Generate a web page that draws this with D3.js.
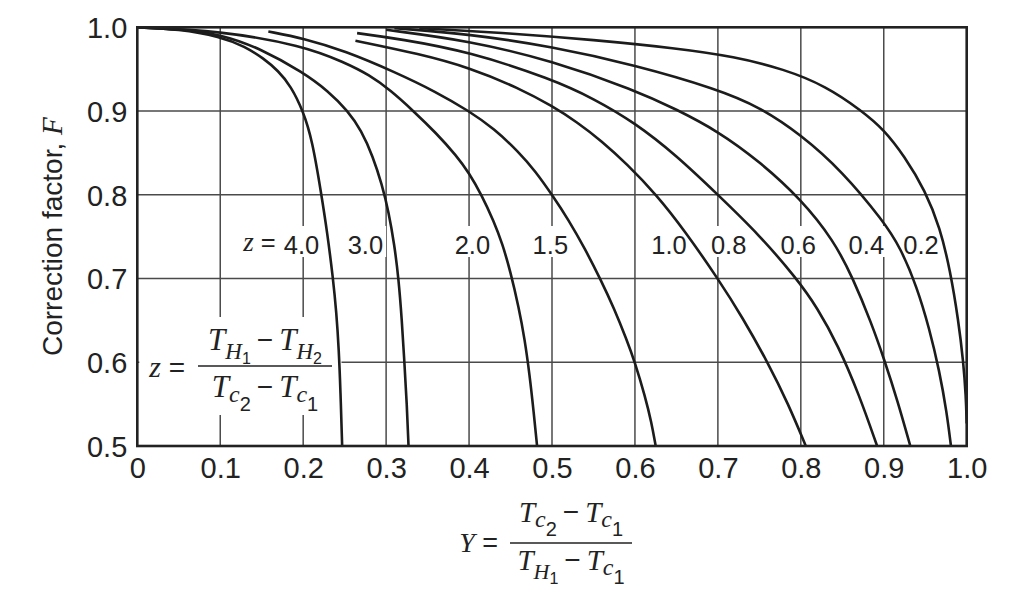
<!DOCTYPE html>
<html><head><meta charset="utf-8">
<script src="https://cdn.jsdelivr.net/npm/d3@7"></script>
<style>
html,body{margin:0;padding:0;background:#fff;}
svg{display:block;}
</style></head>
<body>
<svg id="chart" width="1024" height="601"></svg>
<script>
// ---------- data ----------
const zLabels = ["4.0","3.0","2.0","1.5","1.0","0.8","0.6","0.4","0.2"];
const labelPosY = [0.198,0.275,0.404,0.498,0.641,0.713,0.797,0.879,0.945];
const labelPosF = 0.740;

const curveZ40 = [[0,1],[0.05,0.998],[0.1,0.989],[0.13,0.977],[0.152,0.963],[0.17,0.948],[0.185,0.93],[0.2,0.9],[0.211,0.865],[0.222,0.8],[0.229,0.755],[0.236,0.7],[0.24,0.66],[0.243,0.615],[0.245,0.565],[0.247,0.5]];
const curveZ30 = [[0,1],[0.05,0.998],[0.1,0.992],[0.15,0.974],[0.2,0.946],[0.23,0.924],[0.254,0.9],[0.27,0.877],[0.284,0.846],[0.295,0.812],[0.303,0.78],[0.31,0.74],[0.315,0.7],[0.319,0.65],[0.322,0.6],[0.325,0.55],[0.327,0.5]];
const curveZ20 = [[0,1],[0.1,0.996],[0.2,0.978],[0.25,0.958],[0.28,0.943],[0.305,0.925],[0.333,0.9],[0.36,0.874],[0.385,0.8465],[0.4,0.826],[0.415,0.8],[0.43,0.768],[0.44,0.742],[0.45,0.708],[0.46,0.665],[0.467,0.628],[0.473,0.585],[0.478,0.54],[0.482,0.5]];
const curveZ15 = [[0.158,0.995],[0.2,0.987],[0.25,0.972],[0.312,0.946],[0.36,0.923],[0.4,0.9],[0.43,0.879],[0.46,0.851],[0.48,0.828],[0.5,0.8],[0.52,0.77],[0.54,0.735],[0.558,0.7],[0.575,0.664],[0.59,0.627],[0.6,0.6],[0.612,0.56],[0.62,0.528],[0.625,0.5]];
const curveZ10 = [[0.263,0.984],[0.341,0.968],[0.4,0.952],[0.461,0.927],[0.5,0.906],[0.53,0.887],[0.56,0.864],[0.59,0.837],[0.626,0.8],[0.66,0.757],[0.7,0.7],[0.73,0.653],[0.76,0.6],[0.785,0.55],[0.806,0.5]];
const curveZ08 = [[0.265,0.993],[0.317,0.986],[0.4,0.971],[0.5,0.938],[0.55,0.915],[0.6,0.886],[0.65,0.847],[0.7,0.8],[0.75,0.752],[0.795,0.7],[0.82,0.665],[0.845,0.62],[0.87,0.562],[0.892,0.5]];
const curveZ06 = [[0.30,0.997],[0.4,0.984],[0.5,0.96],[0.6,0.925],[0.65,0.902],[0.7,0.876],[0.75,0.84],[0.8,0.795],[0.84,0.745],[0.863,0.7],[0.885,0.647],[0.9,0.605],[0.917,0.553],[0.932,0.5]];
const curveZ04 = [[0.31,0.999],[0.4,0.992],[0.5,0.977],[0.6,0.955],[0.7,0.926],[0.75,0.905],[0.8,0.872],[0.85,0.828],[0.9,0.768],[0.92,0.737],[0.94,0.69],[0.955,0.64],[0.967,0.59],[0.976,0.54],[0.981,0.5]];
const curveZ02 = [[0.34,0.999],[0.45,0.993],[0.55,0.985],[0.65,0.975],[0.72,0.965],[0.78,0.95],[0.83,0.93],[0.874,0.9],[0.9,0.878],[0.925,0.846],[0.95,0.805],[0.968,0.76],[0.98,0.71],[0.99,0.65],[0.996,0.6],[0.999,0.56],[1.0,0.527]];
const curves = [curveZ40,curveZ30,curveZ20,curveZ15,curveZ10,curveZ08,curveZ06,curveZ04,curveZ02];

const xTicks = [0,0.1,0.2,0.3,0.4,0.5,0.6,0.7,0.8,0.9,1.0];
const xTickLabels = ["0","0.1","0.2","0.3","0.4","0.5","0.6","0.7","0.8","0.9","1.0"];
const yTicks = [0.5,0.6,0.7,0.8,0.9,1.0];
const yTickLabels = ["0.5","0.6","0.7","0.8","0.9","1.0"];
const xGrid = [0.1,0.2,0.3,0.4,0.5,0.6,0.7,0.8,0.9];
const yGrid = [0.6,0.7,0.8,0.9];

// ---------- setup ----------
const SANS = "'Liberation Sans', Arial, Helvetica, sans-serif";
const SERIF = "'Liberation Serif', 'Times New Roman', Times, serif";
const svg = d3.select('#chart');
const x = d3.scaleLinear().domain([0,1]).range([137.3,966.7]);
const y = d3.scaleLinear().domain([0.5,1]).range([446,27.3]);

// grid
const grid = svg.append('g').attr('stroke','#4a4a4a').attr('stroke-width',1.5);
grid.selectAll('line.v').data(xGrid).join('line').attr('class','v')
  .attr('x1',d=>x(d)).attr('x2',d=>x(d)).attr('y1',y(1)).attr('y2',y(0.5));
grid.selectAll('line.h').data(yGrid).join('line').attr('class','h')
  .attr('x1',x(0)).attr('x2',x(1)).attr('y1',d=>y(d)).attr('y2',d=>y(d));

// white box behind the z formula
svg.append('rect').attr('x',x(0)+2).attr('y',317).attr('width',341.5-x(0)-2).attr('height',415-317).attr('fill','#fff');

// curve labels with white backgrounds
const labG = svg.append('g');
zLabels.forEach((lab,i)=>{
  const cx = x(labelPosY[i]), cy = y(labelPosF);
  const g = labG.append('g');
  const bg = g.append('rect').attr('fill','#fff');
  const t = g.append('text').attr('x',cx).attr('y',cy).attr('dy','0.36em')
    .attr('text-anchor','middle').style('font-family',SANS).style('font-size','25.5px').attr('fill','#222').text(lab);
  let bb = t.node().getBBox();
  let x0 = bb.x;
  if(i===0){
    const p = g.append('text').attr('x',bb.x-1).attr('y',cy).attr('dy','0.36em').attr('text-anchor','end').attr('fill','#222');
    p.append('tspan').text('z').style('font-family',SERIF).style('font-style','italic').style('font-size','27px');
    p.append('tspan').text('\u00A0=\u00A0').style('font-family',SANS).style('font-size','25.5px');
    x0 = p.node().getBBox().x;
  }
  bg.attr('x',x0-3).attr('y',226).attr('width',bb.x+bb.width-x0+6).attr('height',31);
});

// curves
const line = d3.line().x(d=>x(d[0])).y(d=>y(d[1])).curve(d3.curveBasis);
svg.append('g').selectAll('path').data(curves).join('path')
  .attr('d',line).attr('fill','none').attr('stroke','#1c1c1c').attr('stroke-width',2.6)
  .attr('stroke-linejoin','round').attr('stroke-linecap','butt');

// frame
svg.append('rect').attr('x',x(0)).attr('y',y(1)).attr('width',x(1)-x(0)).attr('height',y(0.5)-y(1))
  .attr('fill','none').attr('stroke','#222').attr('stroke-width',2.6);

// axes (labels only)
const xa = svg.append('g').attr('transform',`translate(0,${y(0.5)})`)
  .call(d3.axisBottom(x).tickValues(xTicks).tickFormat((d,i)=>xTickLabels[i]).tickSize(0));
xa.select('.domain').remove();
xa.selectAll('text').attr('y',32).attr('dy',0).style('font-family',SANS).style('font-size','29px').attr('fill','#222');
const ya = svg.append('g').attr('transform',`translate(${x(0)},0)`)
  .call(d3.axisLeft(y).tickValues(yTicks).tickFormat((d,i)=>yTickLabels[i]).tickSize(0).tickPadding(10));
ya.select('.domain').remove();
ya.selectAll('text').attr('dy','0.36em').style('font-family',SANS).style('font-size','29px').attr('fill','#222');

// y title
const yt = svg.append('text').attr('transform',`translate(56,${(y(1)+y(0.5))/2}) rotate(-90)`)
  .attr('text-anchor','middle').attr('dy','0.36em').attr('fill','#222');
yt.append('tspan').text('Correction factor,\u00A0').style('font-family',SANS).style('font-size','28px');
yt.append('tspan').text('F').style('font-family',SERIF).style('font-style','italic').style('font-size','29px');

// math helper
function mathText(cx, base, parts){
  const t = svg.append('text').attr('x',cx).attr('y',base).attr('text-anchor','middle').attr('fill','#222');
  let cur = 0;
  parts.forEach(p=>{
    t.append('tspan').text(p.t).attr('dy',p.o-cur).attr('dx',p.dx||0)
      .style('font-family',p.serif?SERIF:SANS).style('font-style',p.serif?'italic':'normal')
      .style('font-size',p.s+'px');
    cur = p.o;
  });
  return t;
}
// T with subscript letter and sub-subscript digit
function term(sub, num, sT, sSub, sNum, dx){
  const isH = sub==='H';
  return [
    {t:'T',serif:true,s:sT,o:0,dx:dx||0},
    {t:sub,serif:true,s:sSub,o:isH?9:5},
    {t:num,serif:false,s:sNum,o:14}
  ];
}
function minus(s){ return [{t:'\u2212',serif:false,s:s,o:-1,dx:6}]; }

// z formula (left)
const zBarX0 = 198, zBarX1 = 332, zBarY = 366;
svg.append('line').attr('x1',zBarX0).attr('x2',zBarX1).attr('y1',zBarY).attr('y2',zBarY).attr('stroke','#222').attr('stroke-width',1.6);
const zl = svg.append('text').attr('x',185).attr('y',377).attr('text-anchor','end').attr('fill','#222');
zl.append('tspan').text('z').style('font-family',SERIF).style('font-style','italic').style('font-size','30px');
zl.append('tspan').text('\u00A0=').style('font-family',SANS).style('font-size','28px');
mathText((zBarX0+zBarX1)/2, 350, [...term('H','1',31,23,16), ...minus(28), ...term('H','2',31,23,16,6)]);
mathText((zBarX0+zBarX1)/2, 397, [...term('c','2',31,24,20), ...minus(28), ...term('c','1',31,24,20,6)]);

// Y formula (bottom)
const yBarX0 = 510, yBarX1 = 632, yBarY = 543;
svg.append('line').attr('x1',yBarX0).attr('x2',yBarX1).attr('y1',yBarY).attr('y2',yBarY).attr('stroke','#222').attr('stroke-width',1.6);
const yl = svg.append('text').attr('x',498).attr('y',552).attr('text-anchor','end').attr('fill','#222');
yl.append('tspan').text('Y').style('font-family',SERIF).style('font-style','italic').style('font-size','28px');
yl.append('tspan').text('\u00A0=').style('font-family',SANS).style('font-size','27px');
mathText((yBarX0+yBarX1)/2, 522, [...term('c','2',29,24,20), ...minus(28), ...term('c','1',29,24,20,6)]);
mathText((yBarX0+yBarX1)/2, 570, [...term('H','1',29,22,16), ...minus(28), ...term('c','1',29,24,20,6)]);
</script>
</body></html>
